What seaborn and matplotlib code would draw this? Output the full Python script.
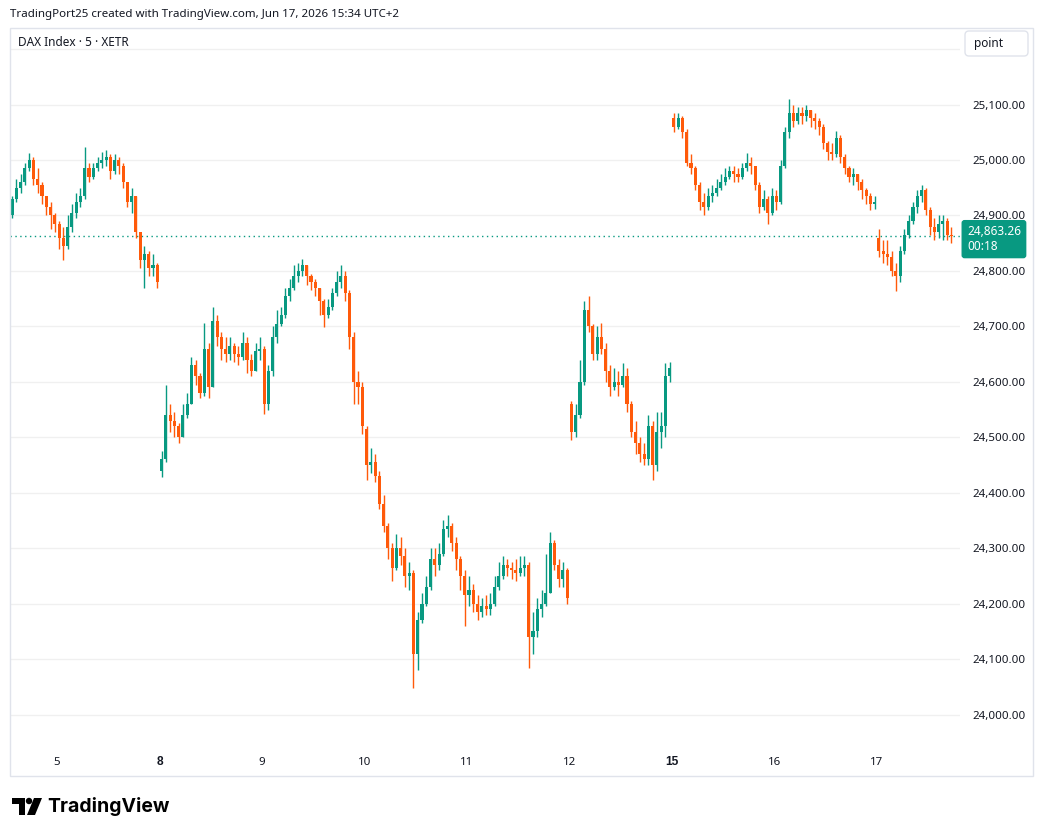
import numpy as np
import pandas as pd
import seaborn as sns
import matplotlib.pyplot as plt
from matplotlib.patches import Rectangle, FancyBboxPatch, Polygon, Circle
from matplotlib.transforms import Affine2D, blended_transform_factory

# DAX 5-min chart (each candle ~ a few bars)
day_labels = ["4", "5", "8", "9", "10", "11", "12", "15", "16", "17"]
bold_days = ["8", "15"]

d04_open = 24900
d04_close = [24930, 24950, 24960, 24985, 25000, 24965, 24955, 24935, 24915, 24900, 24885]
d04_high = [24935, 24965, 24975, 24995, 25012, 25005, 24985, 24960, 24935, 24925, 24905]
d04_low = [24895, 24925, 24940, 24955, 24980, 24955, 24940, 24920, 24900, 24875, 24870]

d05_open = 24885
d05_close = [24860, 24845, 24880, 24905, 24925, 24935, 24985, 24970, 24985, 24995, 25000, 25005,
             24980, 25000, 24990, 24960, 24925, 24935, 24870, 24820, 24830, 24805, 24810, 24780]
d05_high = [24890, 24880, 24900, 24920, 24940, 24950, 25023, 24995, 24995, 25005, 25015, 25018,
            25010, 25010, 25005, 24995, 24960, 24950, 24935, 24870, 24845, 24835, 24830, 24815]
d05_low = [24840, 24820, 24840, 24870, 24895, 24915, 24930, 24960, 24965, 24980, 24985, 24990,
           24965, 24975, 24975, 24950, 24915, 24905, 24860, 24805, 24770, 24790, 24790, 24770]

d08_open = 24440
d08_close = [24460, 24540, 24530, 24520, 24500, 24540, 24560, 24630, 24610, 24580, 24660, 24590,
             24710, 24680, 24660, 24650, 24665, 24650, 24645, 24670, 24640, 24620, 24655, 24660]
d08_high = [24475, 24594, 24560, 24545, 24525, 24560, 24580, 24645, 24640, 24615, 24706, 24670,
            24735, 24720, 24690, 24680, 24680, 24670, 24665, 24690, 24680, 24650, 24670, 24680]
d08_low = [24428, 24455, 24510, 24500, 24490, 24500, 24535, 24560, 24595, 24570, 24575, 24570,
           24590, 24665, 24640, 24635, 24640, 24635, 24630, 24640, 24615, 24610, 24620, 24640]

d09_open = 24660
d09_close = [24560, 24620, 24680, 24705, 24720, 24755, 24770, 24790, 24800, 24810, 24790, 24780,
             24770, 24745, 24720, 24735, 24760, 24780, 24790, 24760, 24680, 24600, 24590, 24520]
d09_high = [24665, 24630, 24700, 24730, 24735, 24770, 24785, 24810, 24815, 24821, 24810, 24795,
            24785, 24770, 24750, 24750, 24770, 24800, 24811, 24800, 24765, 24690, 24620, 24600]
d09_low = [24542, 24550, 24610, 24670, 24700, 24715, 24745, 24765, 24780, 24790, 24775, 24765,
           24755, 24720, 24698, 24715, 24730, 24755, 24770, 24745, 24660, 24560, 24560, 24505]

d10_open = 24515
d10_close = [24450, 24455, 24430, 24380, 24340, 24300, 24265, 24300, 24285, 24250, 24255, 24110,
             24170, 24200, 24230, 24280, 24270, 24290, 24335, 24340, 24310, 24280, 24250, 24215]
d10_high = [24520, 24480, 24470, 24440, 24395, 24345, 24310, 24325, 24320, 24300, 24275, 24260,
            24185, 24220, 24250, 24300, 24300, 24310, 24350, 24360, 24345, 24320, 24285, 24260]
d10_low = [24423, 24435, 24420, 24370, 24330, 24280, 24240, 24260, 24270, 24230, 24225, 24048,
           24080, 24165, 24195, 24225, 24250, 24260, 24285, 24320, 24295, 24260, 24225, 24160]

d11_open = 24215
d11_close = [24225, 24200, 24185, 24195, 24190, 24200, 24230, 24250, 24270, 24265, 24260, 24255,
             24265, 24270, 24140, 24150, 24190, 24200, 24220, 24310, 24270, 24245, 24260, 24210]
d11_high = [24250, 24235, 24215, 24210, 24215, 24220, 24250, 24275, 24285, 24280, 24275, 24280,
            24285, 24285, 24275, 24185, 24210, 24225, 24290, 24329, 24315, 24280, 24275, 24265]
d11_low = [24195, 24185, 24170, 24175, 24180, 24180, 24195, 24225, 24245, 24250, 24245, 24240,
           24250, 24250, 24084, 24110, 24140, 24175, 24195, 24220, 24260, 24230, 24230, 24200]

d12_open = 24560
d12_close = [24510, 24540, 24600, 24730, 24700, 24650, 24680, 24660, 24620, 24590, 24600, 24595,
             24610, 24560, 24510, 24490, 24470, 24460, 24520, 24450, 24510, 24520, 24610, 24625]
d12_high = [24565, 24560, 24640, 24745, 24755, 24705, 24700, 24706, 24670, 24630, 24625, 24620,
            24634, 24625, 24565, 24530, 24500, 24490, 24540, 24530, 24545, 24545, 24634, 24635]
d12_low = [24495, 24500, 24535, 24595, 24690, 24640, 24640, 24650, 24600, 24575, 24585, 24575,
           24590, 24545, 24500, 24470, 24455, 24450, 24450, 24423, 24440, 24480, 24500, 24600]

d15_open = 25075
d15_close = [25060, 25075, 25050, 24995, 24985, 24955, 24925, 24915, 24935, 24940, 24950, 24960,
             24970, 24980, 24975, 24970, 24985, 24995, 24990, 24955, 24915, 24930, 24905, 24935]
d15_high = [25085, 25085, 25080, 25055, 25010, 24990, 24960, 24940, 24950, 24955, 24965, 24975,
            24985, 24990, 24990, 24985, 24995, 25012, 25005, 24990, 24960, 24945, 24935, 24950]
d15_low = [25050, 25055, 25040, 24990, 24975, 24945, 24910, 24901, 24910, 24925, 24935, 24945,
           24955, 24965, 24960, 24960, 24965, 24980, 24975, 24945, 24905, 24910, 24885, 24900]

d16_open = 24935
d16_close = [24925, 24990, 25050, 25085, 25070, 25085, 25080, 25090, 25075, 25070, 25060, 25030,
             25015, 25010, 25040, 25005, 24985, 24970, 24975, 24960, 24945, 24935, 24920, 24925]
d16_high = [24945, 25000, 25060, 25110, 25100, 25095, 25095, 25100, 25090, 25085, 25075, 25065,
            25035, 25030, 25052, 25045, 25010, 24990, 24985, 24975, 24965, 24950, 24940, 24935]
d16_low = [24910, 24920, 24985, 25040, 25060, 25065, 25065, 25070, 25060, 25055, 25045, 25020,
           25000, 25000, 25005, 24995, 24975, 24960, 24955, 24945, 24930, 24920, 24910, 24912]

d17_open = 24860
d17_close = [24835, 24830, 24825, 24800, 24790, 24835, 24865, 24890, 24915, 24935, 24945, 24910,
             24880, 24870, 24885, 24890, 24865, 24863.26]
d17_high = [24875, 24855, 24855, 24835, 24815, 24845, 24875, 24900, 24925, 24945, 24955, 24950,
            24915, 24895, 24900, 24900, 24895, 24880]
d17_low = [24825, 24815, 24810, 24790, 24764, 24780, 24830, 24860, 24885, 24905, 24925, 24900,
           24865, 24855, 24860, 24855, 24855, 24850]

last_price = 24863.26
countdown = "00:18"
price_ticks = list(range(24000, 25201, 100))

sessions = [
    (d04_open, d04_close, d04_high, d04_low),
    (d05_open, d05_close, d05_high, d05_low),
    (d08_open, d08_close, d08_high, d08_low),
    (d09_open, d09_close, d09_high, d09_low),
    (d10_open, d10_close, d10_high, d10_low),
    (d11_open, d11_close, d11_high, d11_low),
    (d12_open, d12_close, d12_high, d12_low),
    (d15_open, d15_close, d15_high, d15_low),
    (d16_open, d16_close, d16_high, d16_low),
    (d17_open, d17_close, d17_high, d17_low),
]

rows = []
day_start = []
for lab, (op, cl, hi, lo) in zip(day_labels, sessions):
    day_start.append(len(rows))
    opens = [op] + cl[:-1]
    for o, c, h, l in zip(opens, cl, hi, lo):
        rows.append({"day": lab, "open": o, "close": c, "high": h, "low": l})
df = pd.DataFrame(rows)
df["x"] = np.arange(len(df))

UP = "#089981"
DOWN = "#FF5A0A"
TXT = "#131722"

sns.set_theme(style="white")
plt.rcParams['font.family'] = ['Noto Sans', 'DejaVu Sans']

W, H = 1043, 836
fig = plt.figure(figsize=(W / 100, H / 100), dpi=100)
fig.patch.set_facecolor("white")
pix = Affine2D().scale(1 / W, -1 / H).translate(0, 1) + fig.transFigure

ax = fig.add_axes([10 / W, (H - 745) / H, 950 / W, 717 / H])
ax.set_facecolor("white")

colors = np.where(df["close"] >= df["open"], UP, DOWN)
body_lo = np.minimum(df["open"], df["close"])
body_h = np.maximum(np.abs(df["close"] - df["open"]), 1.5)
ax.vlines(df["x"], df["low"], df["high"], colors=colors, lw=1.0, zorder=3)
ax.bar(df["x"], body_h, bottom=body_lo, width=0.72, color=colors, linewidth=0, zorder=3)

ax.set_xlim(-0.5, 222)
ax.set_ylim(23945, 25238)

ax.set_yticks(price_ticks)
ax.set_yticklabels([f"{p:,.2f}" if p < 25200 else "" for p in price_ticks])
ax.yaxis.tick_right()
ax.grid(axis="y", color="#f0f0f0", lw=1, zorder=0)
ax.grid(axis="x", visible=False)
ax.tick_params(axis="y", length=0, pad=9, labelsize=8.3, labelcolor=TXT)

# day labels on the time axis (Mondays in bold)
ax.set_xticks([])
bx = blended_transform_factory(ax.transData, ax.transAxes)
for lab, s in zip(day_labels[1:], day_start[1:]):
    if lab in bold_days:
        ax.text(s - 0.5, -0.024, lab, transform=bx, ha="center", va="center", fontsize=8.6,
                color=TXT, fontweight="bold", family=["Liberation Sans", "DejaVu Sans"])
    else:
        ax.text(s - 0.5, -0.024, lab, transform=bx, ha="center", va="center", fontsize=8.3,
                color=TXT)
for s in ax.spines.values():
    s.set_visible(False)

# last price line + label
ax.axhline(last_price, color=UP, lw=1, ls=(0, (1, 2.5)), zorder=2)
bt = blended_transform_factory(ax.transAxes, ax.transData)
ax.annotate(f"{last_price:,.2f}\n{countdown}", xy=(1.0, last_price), xycoords=bt,
            xytext=(5, 7.5), textcoords="offset points", ha="left", va="top",
            fontsize=8.5, color="white", linespacing=1.15, annotation_clip=False,
            bbox=dict(boxstyle="round,pad=0.4,rounding_size=0.2", fc=UP, ec=UP))

# panel frame and overlays
fig.patches.append(Rectangle((9.5, 27.5), 1023, 748, transform=pix, fill=False,
                             ec="#e0e3eb", lw=1))
fig.patches.append(FancyBboxPatch((965, 31), 63, 25, boxstyle="round,pad=0,rounding_size=4",
                                  transform=pix, fc="white", ec="#e0e3eb", lw=1))
fig.text(974, 44, "point", transform=pix, fontsize=8.5, color=TXT, va="center", ha="left")
fig.text(18, 42, "DAX Index · 5 · XETR", transform=pix, fontsize=8.5, color=TXT,
         va="center", ha="left")
fig.text(10, 14, "TradingPort25 created with TradingView.com, Jun 17, 2026 15:34 UTC+2",
         transform=pix, fontsize=8.3, color=TXT, va="center", ha="left")

# TradingView logo
fig.patches.append(Polygon([(12, 798), (25, 798), (25, 815), (18.5, 815), (18.5, 804), (12, 804)],
                           closed=True, transform=pix, fc="black", ec="none"))
fig.patches.append(Circle((29, 801), 3.2, transform=pix, fc="black", ec="none"))
fig.patches.append(Polygon([(34, 798), (42, 798), (35, 815), (27, 815)], closed=True,
                           transform=pix, fc="black", ec="none"))
fig.text(47, 806, "TradingView", transform=pix, fontsize=14, fontweight="bold",
         family=["Inter", "DejaVu Sans"], color="black", va="center", ha="left")

fig.savefig("out.png", dpi=100, facecolor="white")
